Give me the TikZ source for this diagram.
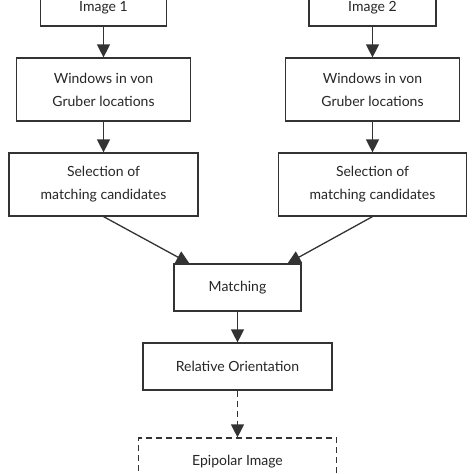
\documentclass[tikz,border=0pt]{standalone}
\usepackage{fontspec}
\setmainfont{Lato}
\usetikzlibrary{arrows.meta}
\begin{document}
\begin{tikzpicture}[x=1pt,y=-1pt,
  box/.style={draw=black!80, line width=1.2pt, rectangle, inner sep=0pt, align=center,
    text=black!85, font=\fontsize{14}{23}\selectfont},
  arr/.style={draw=black!80, line width=1.3pt, -{Triangle[length=13pt,width=13pt]}},
  dsh/.style={dash pattern=on 6pt off 4pt},
]
\useasboundingbox (0,0) rectangle (474,474);
\clip (0,0) rectangle (474,474);
\fill[white] (0,0) rectangle (474,474);
\node[box, minimum width=126pt, minimum height=37pt] (img1) at (103.5,7.5) {Image 1};
\node[box, minimum width=127pt, minimum height=37pt] (img2) at (372.5,7.5) {Image 2};
\node[box, minimum width=174pt, minimum height=63pt] (win1) at (103.5,89.5) {Windows in von\\Gruber locations};
\node[box, minimum width=174pt, minimum height=63pt] (win2) at (372.5,89.5) {Windows in von\\Gruber locations};
\node[box, minimum width=189pt, minimum height=63pt] (sel1) at (103.5,184.5) {Selection of\\matching candidates};
\node[box, minimum width=188pt, minimum height=63pt] (sel2) at (372.5,184.5) {Selection of\\matching candidates};
\node[box, minimum width=127pt, minimum height=47pt] (match) at (237.5,287.5) {Matching};
\node[box, minimum width=189pt, minimum height=47pt] (rel) at (237.5,366.5) {Relative Orientation};
\node[box, dsh, minimum width=198pt, minimum height=47pt] (epi) at (237.5,461.5) {Epipolar Image};
\draw[arr] (img1.south) -- (win1.north);
\draw[arr] (img2.south) -- (win2.north);
\draw[arr] (win1.south) -- (sel1.north);
\draw[arr] (win2.south) -- (sel2.north);
\draw[arr] (sel1.south) -- ([xshift=16pt]match.north west);
\draw[arr] (sel2.south) -- ([xshift=-14pt]match.north east);
\draw[arr] (match.south) -- (rel.north);
\draw[arr, dsh] (rel.south) -- (epi.north);
\end{tikzpicture}
\end{document}
